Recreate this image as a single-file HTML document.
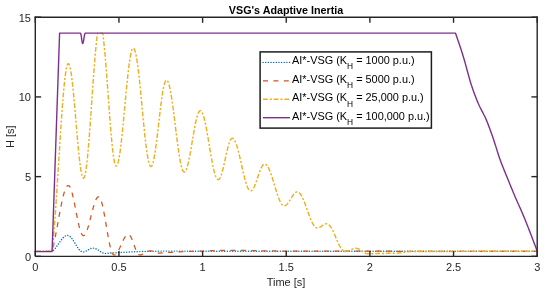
<!DOCTYPE html>
<html><head><meta charset="utf-8"><style>
html,body{margin:0;padding:0;background:#fff;width:550px;height:295px;overflow:hidden;}
svg{display:block;}
text{font-family:"Liberation Sans",Arial,sans-serif;}
</style></head><body>
<svg width="550" height="295" viewBox="0 0 550 295">
<rect x="0" y="0" width="550" height="295" fill="#fff"/>
<g fill="none" stroke-linejoin="round" stroke-width="1.25">
<polyline points="35.30,251.30 52.10,251.30 52.35,251.13 52.59,250.95 52.84,250.76 53.09,250.56 53.33,250.34 53.58,250.12 53.83,249.88 54.07,249.63 54.32,249.37 54.57,249.11 54.81,248.83 55.06,248.54 55.31,248.24 55.55,247.94 55.80,247.63 56.05,247.31 56.30,246.98 56.54,246.65 56.79,246.31 57.04,245.97 57.28,245.62 57.53,245.27 57.78,244.91 58.02,244.55 58.27,244.19 58.52,243.83 58.76,243.47 59.01,243.11 59.26,242.75 59.50,242.39 59.75,242.03 60.00,241.68 60.24,241.33 60.49,240.98 60.74,240.64 60.98,240.31 61.23,239.98 61.48,239.65 61.72,239.34 61.97,239.03 62.22,238.73 62.46,238.45 62.71,238.17 62.96,237.90 63.20,237.64 63.45,237.40 63.70,237.17 63.95,236.95 64.19,236.74 64.44,236.55 64.69,236.37 64.93,236.20 65.18,236.05 65.43,235.92 65.67,235.80 65.92,235.69 66.17,235.60 66.41,235.53 66.66,235.47 66.91,235.43 67.15,235.41 67.40,235.40 67.65,235.41 67.90,235.44 68.14,235.49 68.39,235.56 68.64,235.66 68.89,235.77 69.13,235.90 69.38,236.05 69.63,236.22 69.88,236.40 70.12,236.61 70.37,236.83 70.62,237.07 70.87,237.33 71.11,237.60 71.36,237.89 71.61,238.19 71.86,238.51 72.10,238.83 72.35,239.17 72.60,239.53 72.85,239.89 73.10,240.26 73.34,240.64 73.59,241.02 73.84,241.42 74.09,241.81 74.33,242.22 74.58,242.62 74.83,243.03 75.08,243.44 75.32,243.86 75.57,244.27 75.82,244.68 76.07,245.08 76.31,245.49 76.56,245.88 76.81,246.28 77.06,246.66 77.30,247.04 77.55,247.41 77.80,247.78 78.05,248.13 78.30,248.47 78.54,248.79 78.79,249.11 79.04,249.41 79.29,249.70 79.53,249.97 79.78,250.23 80.03,250.47 80.28,250.69 80.52,250.90 80.77,251.08 81.02,251.25 81.27,251.40 81.51,251.53 81.76,251.64 82.01,251.74 82.26,251.81 82.50,251.86 82.75,251.89 83.00,251.90 83.25,251.89 83.50,251.88 83.75,251.85 84.00,251.81 84.25,251.76 84.50,251.69 84.75,251.62 85.00,251.54 85.25,251.44 85.50,251.34 85.75,251.23 86.00,251.12 86.25,250.99 86.50,250.86 86.75,250.73 87.00,250.59 87.25,250.44 87.50,250.30 87.75,250.15 88.00,250.00 88.25,249.85 88.50,249.70 88.75,249.56 89.00,249.41 89.25,249.27 89.50,249.14 89.75,249.01 90.00,248.88 90.25,248.77 90.50,248.66 90.75,248.56 91.00,248.46 91.25,248.38 91.50,248.31 91.75,248.24 92.00,248.19 92.25,248.15 92.50,248.12 92.75,248.11 93.00,248.10 93.25,248.11 93.50,248.12 93.74,248.15 93.99,248.18 94.24,248.23 94.49,248.29 94.74,248.35 94.98,248.43 95.23,248.51 95.48,248.61 95.73,248.71 95.98,248.82 96.22,248.94 96.47,249.06 96.72,249.19 96.97,249.33 97.22,249.47 97.46,249.62 97.71,249.77 97.96,249.93 98.21,250.09 98.46,250.25 98.70,250.42 98.95,250.58 99.20,250.75 99.45,250.92 99.70,251.08 99.94,251.25 100.19,251.41 100.44,251.57 100.69,251.73 100.94,251.88 101.18,252.03 101.43,252.17 101.68,252.31 101.93,252.44 102.18,252.56 102.42,252.68 102.67,252.79 102.92,252.89 103.17,252.99 103.42,253.07 103.66,253.15 103.91,253.21 104.16,253.27 104.41,253.32 104.66,253.35 104.90,253.38 105.15,253.39 105.40,253.40 105.90,253.37 106.40,253.33 106.90,253.30 107.40,253.26 107.90,253.23 108.40,253.20 108.90,253.16 109.40,253.13 109.90,253.10 110.40,253.07 110.90,253.03 111.40,253.00 111.90,252.97 112.40,252.94 112.90,252.91 113.40,252.88 113.90,252.85 114.40,252.82 114.90,252.79 115.40,252.76 115.90,252.73 116.40,252.70 116.90,252.67 117.40,252.64 117.90,252.61 118.40,252.59 118.90,252.56 119.40,252.53 119.90,252.51 120.40,252.48 120.90,252.45 121.40,252.43 121.90,252.40 122.40,252.37 122.90,252.35 123.40,252.32 123.90,252.30 124.40,252.27 124.90,252.24 125.40,252.22 125.90,252.19 126.40,252.17 126.90,252.14 127.40,252.12 127.90,252.09 128.40,252.07 128.90,252.04 129.40,252.02 129.90,251.99 130.40,251.97 130.90,251.95 131.40,251.92 131.90,251.90 132.40,251.88 132.90,251.86 133.40,251.84 133.90,251.82 134.40,251.79 134.90,251.77 135.40,251.75 135.90,251.74 136.40,251.72 136.90,251.70 137.40,251.68 137.90,251.66 138.40,251.65 138.90,251.63 139.40,251.62 139.90,251.60 140.40,251.59 140.90,251.57 141.40,251.56 141.90,251.55 142.40,251.53 142.90,251.52 143.40,251.50 143.90,251.49 144.40,251.48 144.90,251.46 145.40,251.45 145.90,251.43 146.40,251.42 146.90,251.41 147.40,251.39 147.90,251.38 148.40,251.36 148.90,251.35 149.40,251.34 149.90,251.33 150.40,251.31 150.90,251.30 151.40,251.29 151.90,251.28 152.40,251.26 152.90,251.25 153.40,251.24 153.90,251.23 154.40,251.22 154.90,251.21 155.40,251.20 155.90,251.19 156.40,251.18 156.90,251.17 157.40,251.17 157.90,251.16 158.40,251.15 158.90,251.14 159.40,251.14 159.90,251.13 160.40,251.13 160.90,251.12 161.40,251.12 161.90,251.11 162.40,251.11 162.90,251.11 163.40,251.10 163.90,251.10 164.40,251.10 164.90,251.10 165.40,251.10 165.90,251.10 166.40,251.10 166.90,251.10 167.40,251.10 167.90,251.10 168.40,251.10 168.90,251.10 169.40,251.10 169.90,251.10 170.40,251.11 170.90,251.11 171.40,251.11 171.90,251.11 172.40,251.11 172.90,251.11 173.40,251.11 173.90,251.11 174.40,251.11 174.90,251.12 175.40,251.12 175.90,251.12 176.40,251.12 176.90,251.12 177.40,251.12 177.90,251.13 178.40,251.13 178.90,251.13 179.40,251.13 179.90,251.13 180.40,251.13 180.90,251.14 181.40,251.14 181.90,251.14 182.40,251.14 182.90,251.14 183.40,251.15 183.90,251.15 184.40,251.15 184.90,251.15 185.40,251.15 185.90,251.16 186.40,251.16 186.90,251.16 187.40,251.16 187.90,251.16 188.40,251.17 188.90,251.17 189.40,251.17 189.90,251.17 190.40,251.17 190.90,251.18 191.40,251.18 191.90,251.18 192.40,251.18 192.90,251.18 193.40,251.18 193.90,251.19 194.40,251.19 194.90,251.19 195.40,251.19 195.90,251.19 196.40,251.19 196.90,251.19 197.40,251.19 197.90,251.20 198.40,251.20 198.90,251.20 199.40,251.20 199.90,251.20 200.40,251.20 200.90,251.20 201.40,251.20 201.90,251.20 202.40,251.20 202.90,251.20 203.40,251.21 203.90,251.21 204.40,251.21 204.90,251.21 205.40,251.21 205.90,251.21 206.40,251.21 206.90,251.21 207.40,251.21 207.90,251.21 208.40,251.21 208.90,251.21 209.40,251.21 209.90,251.22 210.40,251.22 210.90,251.22 211.40,251.22 211.90,251.22 212.40,251.22 212.90,251.22 213.40,251.22 213.90,251.22 214.40,251.22 214.90,251.22 215.40,251.22 215.90,251.22 216.40,251.23 216.90,251.23 217.40,251.23 217.90,251.23 218.40,251.23 218.90,251.23 219.40,251.23 219.90,251.23 220.40,251.23 220.90,251.23 221.40,251.23 221.90,251.23 222.40,251.23 222.90,251.24 223.40,251.24 223.90,251.24 224.40,251.24 224.90,251.24 225.40,251.24 225.90,251.24 226.40,251.24 226.90,251.24 227.40,251.24 227.90,251.24 228.40,251.24 228.90,251.24 229.40,251.24 229.90,251.25 230.40,251.25 230.90,251.25 231.40,251.25 231.90,251.25 232.40,251.25 232.90,251.25 233.40,251.25 233.90,251.25 234.40,251.25 234.90,251.25 235.40,251.25 235.90,251.25 236.40,251.25 236.90,251.25 237.40,251.26 237.90,251.26 238.40,251.26 238.90,251.26 239.40,251.26 239.90,251.26 240.40,251.26 240.90,251.26 241.40,251.26 241.90,251.26 242.40,251.26 242.90,251.26 243.40,251.26 243.90,251.26 244.40,251.26 244.90,251.26 245.40,251.26 245.90,251.27 246.40,251.27 246.90,251.27 247.40,251.27 247.90,251.27 248.40,251.27 248.90,251.27 249.40,251.27 249.90,251.27 250.40,251.27 250.90,251.27 251.40,251.27 251.90,251.27 252.40,251.27 252.90,251.27 253.40,251.27 253.90,251.27 254.40,251.27 254.90,251.28 255.40,251.28 255.90,251.28 256.40,251.28 256.90,251.28 257.40,251.28 257.90,251.28 258.40,251.28 258.90,251.28 259.40,251.28 259.90,251.28 260.40,251.28 260.90,251.28 261.40,251.28 261.90,251.28 262.40,251.28 262.90,251.28 263.40,251.28 263.90,251.28 264.40,251.28 264.90,251.28 265.40,251.28 265.90,251.29 266.40,251.29 266.90,251.29 267.40,251.29 267.90,251.29 268.40,251.29 268.90,251.29 269.40,251.29 269.90,251.29 270.40,251.29 270.90,251.29 271.40,251.29 271.90,251.29 272.40,251.29 272.90,251.29 273.40,251.29 273.90,251.29 274.40,251.29 274.90,251.29 275.40,251.29 275.90,251.29 276.40,251.29 276.90,251.29 277.40,251.29 277.90,251.29 278.40,251.29 278.90,251.29 279.40,251.29 279.90,251.29 280.40,251.29 280.90,251.30 281.40,251.30 281.90,251.30 282.40,251.30 282.90,251.30 283.40,251.30 283.90,251.30 284.40,251.30 284.90,251.30 285.40,251.30 285.90,251.30 286.40,251.30 286.90,251.30 287.40,251.30 287.90,251.30 288.40,251.30 288.90,251.30 289.40,251.30 289.90,251.30 290.40,251.30 290.90,251.30 291.40,251.30 291.90,251.30 292.40,251.30 292.90,251.30 293.40,251.30 293.90,251.30 294.40,251.30 294.90,251.30 295.40,251.30 295.90,251.30 296.40,251.30 296.90,251.30 297.40,251.30 297.90,251.30 298.40,251.30 298.90,251.30 299.40,251.30 299.90,251.30 300.40,251.30 300.90,251.30 301.40,251.30 301.90,251.30 302.40,251.30 302.90,251.30 303.40,251.30 303.90,251.30 304.40,251.30 304.90,251.30 305.40,251.30 305.90,251.30 306.40,251.30 306.90,251.30 307.40,251.30 307.90,251.30 308.40,251.30 308.90,251.30 309.40,251.30 309.90,251.30 310.40,251.30 310.90,251.30 311.40,251.30 311.90,251.30 312.40,251.30 312.90,251.30 313.40,251.30 313.90,251.30 314.40,251.30 314.90,251.30 315.40,251.30 315.90,251.30 316.40,251.30 316.90,251.30 317.40,251.30 317.90,251.30 318.40,251.30 318.90,251.30 319.40,251.30 319.90,251.30 320.40,251.30 320.90,251.30 321.40,251.30 321.90,251.30 322.40,251.30 322.90,251.30 323.40,251.30 323.90,251.30 324.40,251.30 324.90,251.30 325.40,251.30 325.90,251.30 326.40,251.30 326.90,251.30 327.40,251.30 327.90,251.30 328.40,251.30 328.90,251.30 329.40,251.30 329.90,251.30 330.40,251.30 330.90,251.30 331.40,251.30 331.90,251.30 332.40,251.30 332.90,251.30 333.40,251.30 333.90,251.30 334.40,251.30 334.90,251.30 335.40,251.30 335.90,251.30 336.40,251.30 336.90,251.30 337.40,251.30 337.90,251.30 338.40,251.30 338.90,251.30 339.40,251.30 339.90,251.30 340.40,251.30 340.90,251.30 341.40,251.30 341.90,251.30 342.40,251.30 342.90,251.30 343.40,251.30 343.90,251.30 344.40,251.30 344.90,251.30 345.40,251.30 345.90,251.30 346.40,251.30 346.90,251.30 347.40,251.30 347.90,251.30 348.40,251.30 348.90,251.30 349.40,251.30 349.90,251.30 350.40,251.30 350.90,251.30 351.40,251.30 351.90,251.30 352.40,251.30 352.90,251.30 353.40,251.30 353.90,251.30 354.40,251.30 354.90,251.30 355.40,251.30 355.90,251.30 356.40,251.30 356.90,251.30 357.40,251.30 357.90,251.30 358.40,251.30 358.90,251.30 359.40,251.30 359.90,251.30 360.40,251.30 360.90,251.30 361.40,251.30 361.90,251.30 362.40,251.30 362.90,251.30 363.40,251.30 363.90,251.30 364.40,251.30 364.90,251.30 365.40,251.30 365.90,251.30 366.40,251.30 366.90,251.30 367.40,251.30 367.90,251.30 368.40,251.30 368.90,251.30 369.40,251.30 369.90,251.30 370.40,251.30 370.90,251.30 371.40,251.30 371.90,251.30 372.40,251.30 372.90,251.30 373.40,251.30 373.90,251.30 374.40,251.30 374.90,251.30 375.40,251.30 375.90,251.30 376.40,251.30 376.90,251.30 377.40,251.30 377.90,251.30 378.40,251.30 378.90,251.30 379.40,251.30 379.90,251.30 380.40,251.30 380.90,251.30 381.40,251.30 381.90,251.30 382.40,251.30 382.90,251.30 383.40,251.30 383.90,251.30 384.40,251.30 384.90,251.30 385.40,251.30 385.90,251.30 386.40,251.30 386.90,251.30 387.40,251.30 387.90,251.30 388.40,251.30 388.90,251.30 389.40,251.30 389.90,251.30 390.40,251.30 390.90,251.30 391.40,251.30 391.90,251.30 392.40,251.30 392.90,251.30 393.40,251.30 393.90,251.30 394.40,251.30 394.90,251.30 395.40,251.30 395.90,251.30 396.40,251.30 396.90,251.30 397.40,251.30 397.90,251.30 398.40,251.30 398.90,251.30 399.40,251.30 399.90,251.30 400.40,251.30 400.90,251.30 401.40,251.30 401.90,251.30 402.40,251.30 402.90,251.30 403.40,251.30 403.90,251.30 404.40,251.30 404.90,251.30 405.40,251.30 405.90,251.30 406.40,251.30 406.90,251.30 407.40,251.30 407.90,251.30 408.40,251.30 408.90,251.30 409.40,251.30 409.90,251.30 410.40,251.30 410.90,251.30 411.40,251.30 411.90,251.30 412.40,251.30 412.90,251.30 413.40,251.30 413.90,251.30 414.40,251.30 414.90,251.30 415.40,251.30 415.90,251.30 416.40,251.30 416.90,251.30 417.40,251.30 417.90,251.30 418.40,251.30 418.90,251.30 419.40,251.30 419.90,251.30 420.40,251.30 420.90,251.30 421.40,251.30 421.90,251.30 422.40,251.30 422.90,251.30 423.40,251.30 423.90,251.30 424.40,251.30 424.90,251.30 425.40,251.30 425.90,251.30 426.40,251.30 426.90,251.30 427.40,251.30 427.90,251.30 428.40,251.30 428.90,251.30 429.40,251.30 429.90,251.30 430.40,251.30 430.90,251.30 431.40,251.30 431.90,251.30 432.40,251.30 432.90,251.30 433.40,251.30 433.90,251.30 434.40,251.30 434.90,251.30 435.40,251.30 435.90,251.30 436.40,251.30 436.90,251.30 437.40,251.30 437.90,251.30 438.40,251.30 438.90,251.30 439.40,251.30 439.90,251.30 440.40,251.30 440.90,251.30 441.40,251.30 441.90,251.30 442.40,251.30 442.90,251.30 443.40,251.30 443.90,251.30 444.40,251.30 444.90,251.30 445.40,251.30 445.90,251.30 446.40,251.30 446.90,251.30 447.40,251.30 447.90,251.30 448.40,251.30 448.90,251.30 449.40,251.30 449.90,251.30 450.40,251.30 450.90,251.30 451.40,251.30 451.90,251.30 452.40,251.30 452.90,251.30 453.40,251.30 453.90,251.30 454.40,251.30 454.90,251.30 455.40,251.30 455.90,251.30 456.40,251.30 456.90,251.30 457.40,251.30 457.90,251.30 458.40,251.30 458.90,251.30 459.40,251.30 459.90,251.30 460.40,251.30 460.90,251.30 461.40,251.30 461.90,251.30 462.40,251.30 462.90,251.30 463.40,251.30 463.90,251.30 464.40,251.30 464.90,251.30 465.40,251.30 465.90,251.30 466.40,251.30 466.90,251.30 467.40,251.30 467.90,251.30 468.40,251.30 468.90,251.30 469.40,251.30 469.90,251.30 470.40,251.30 470.90,251.30 471.40,251.30 471.90,251.30 472.40,251.30 472.90,251.30 473.40,251.30 473.90,251.30 474.40,251.30 474.90,251.30 475.40,251.30 475.90,251.30 476.40,251.30 476.90,251.30 477.40,251.30 477.90,251.30 478.40,251.30 478.90,251.30 479.40,251.30 479.90,251.30 480.40,251.30 480.90,251.30 481.40,251.30 481.90,251.30 482.40,251.30 482.90,251.30 483.40,251.30 483.90,251.30 484.40,251.30 484.90,251.30 485.40,251.30 485.90,251.30 486.40,251.30 486.90,251.30 487.40,251.30 487.90,251.30 488.40,251.30 488.90,251.30 489.40,251.30 489.90,251.30 490.40,251.30 490.90,251.30 491.40,251.30 491.90,251.30 492.40,251.30 492.90,251.30 493.40,251.30 493.90,251.30 494.40,251.30 494.90,251.30 495.40,251.30 495.90,251.30 496.40,251.30 496.90,251.30 497.40,251.30 497.90,251.30 498.40,251.30 498.90,251.30 499.40,251.30 499.90,251.30 500.40,251.30 500.90,251.30 501.40,251.30 501.90,251.30 502.40,251.30 502.90,251.30 503.40,251.30 503.90,251.30 504.40,251.30 504.90,251.30 505.40,251.30 505.90,251.30 506.40,251.30 506.90,251.30 507.40,251.30 507.90,251.30 508.40,251.30 508.90,251.30 509.40,251.30 509.90,251.30 510.40,251.30 510.90,251.30 511.40,251.30 511.90,251.30 512.40,251.30 512.90,251.30 513.40,251.30 513.90,251.30 514.40,251.30 514.90,251.30 515.40,251.30 515.90,251.30 516.40,251.30 516.90,251.30 517.40,251.30 517.90,251.30 518.40,251.30 518.90,251.30 519.40,251.30 519.90,251.30 520.40,251.30 520.90,251.30 521.40,251.30 521.90,251.30 522.40,251.30 522.90,251.30 523.40,251.30 523.90,251.30 524.40,251.30 524.90,251.30 525.40,251.30 525.90,251.30 526.40,251.30 526.90,251.30 527.40,251.30 527.90,251.30 528.40,251.30 528.90,251.30 529.40,251.30 529.90,251.30 530.40,251.30 530.90,251.30 531.40,251.30 531.90,251.30 532.40,251.30 532.90,251.30 533.40,251.30 533.90,251.30 534.40,251.30 534.90,251.30 535.40,251.30 535.90,251.30 536.40,251.30 536.90,251.30 537.20,251.30" stroke="#0072BD" stroke-dasharray="0.1 2.55" stroke-linecap="round" stroke-width="1.4"/>
<polyline points="35.30,251.30 52.10,251.30 52.35,250.33 52.60,249.33 52.85,248.30 53.10,247.24 53.35,246.16 53.60,245.05 53.84,243.91 54.09,242.74 54.34,241.56 54.59,240.34 54.84,239.11 55.09,237.86 55.34,236.59 55.59,235.30 55.84,233.99 56.09,232.67 56.34,231.34 56.59,229.99 56.84,228.63 57.08,227.27 57.33,225.90 57.58,224.52 57.83,223.14 58.08,221.76 58.33,220.38 58.58,219.00 58.83,217.63 59.08,216.26 59.33,214.90 59.58,213.55 59.83,212.21 60.08,210.88 60.32,209.57 60.57,208.28 60.82,207.00 61.07,205.75 61.32,204.52 61.57,203.31 61.82,202.13 62.07,200.98 62.32,199.86 62.57,198.77 62.82,197.71 63.07,196.69 63.32,195.71 63.56,194.76 63.81,193.85 64.06,192.98 64.31,192.16 64.56,191.38 64.81,190.64 65.06,189.95 65.31,189.30 65.56,188.70 65.81,188.15 66.06,187.66 66.31,187.21 66.56,186.81 66.80,186.46 67.05,186.17 67.30,185.93 67.55,185.74 67.80,185.61 68.05,185.53 68.30,185.50 68.55,185.53 68.80,185.63 69.04,185.80 69.29,186.03 69.54,186.33 69.79,186.69 70.03,187.11 70.28,187.60 70.53,188.14 70.78,188.75 71.02,189.41 71.27,190.13 71.52,190.91 71.77,191.73 72.01,192.61 72.26,193.53 72.51,194.50 72.76,195.51 73.00,196.57 73.25,197.65 73.50,198.78 73.75,199.93 73.99,201.11 74.24,202.32 74.49,203.55 74.74,204.80 74.98,206.06 75.23,207.33 75.48,208.62 75.73,209.91 75.97,211.19 76.22,212.48 76.47,213.77 76.72,215.04 76.96,216.30 77.21,217.55 77.46,218.78 77.71,219.99 77.95,221.17 78.20,222.32 78.45,223.45 78.70,224.53 78.94,225.59 79.19,226.60 79.44,227.57 79.69,228.49 79.93,229.37 80.18,230.19 80.43,230.97 80.68,231.69 80.92,232.35 81.17,232.96 81.42,233.50 81.67,233.99 81.91,234.41 82.16,234.77 82.41,235.07 82.66,235.30 82.90,235.47 83.15,235.57 83.40,235.60 83.65,235.57 83.90,235.50 84.15,235.37 84.40,235.19 84.65,234.96 84.90,234.68 85.14,234.35 85.39,233.98 85.64,233.55 85.89,233.08 86.14,232.57 86.39,232.01 86.64,231.41 86.89,230.77 87.14,230.09 87.39,229.38 87.64,228.63 87.89,227.84 88.13,227.03 88.38,226.19 88.63,225.32 88.88,224.42 89.13,223.51 89.38,222.57 89.63,221.62 89.88,220.66 90.13,219.68 90.38,218.69 90.63,217.70 90.88,216.70 91.12,215.70 91.37,214.70 91.62,213.71 91.87,212.72 92.12,211.74 92.37,210.78 92.62,209.83 92.87,208.89 93.12,207.98 93.37,207.08 93.62,206.21 93.87,205.37 94.11,204.56 94.36,203.77 94.61,203.02 94.86,202.31 95.11,201.63 95.36,200.99 95.61,200.39 95.86,199.83 96.11,199.32 96.36,198.85 96.61,198.42 96.86,198.05 97.10,197.72 97.35,197.44 97.60,197.21 97.85,197.03 98.10,196.90 98.35,196.83 98.60,196.80 98.85,196.84 99.10,196.95 99.35,197.14 99.59,197.40 99.84,197.73 100.09,198.13 100.34,198.61 100.59,199.16 100.84,199.77 101.08,200.46 101.33,201.20 101.58,202.02 101.83,202.89 102.08,203.82 102.33,204.81 102.57,205.85 102.82,206.95 103.07,208.09 103.32,209.28 103.57,210.51 103.82,211.78 104.06,213.08 104.31,214.42 104.56,215.79 104.81,217.19 105.06,218.61 105.31,220.04 105.55,221.49 105.80,222.96 106.05,224.43 106.30,225.90 106.55,227.37 106.80,228.84 107.05,230.31 107.29,231.76 107.54,233.19 107.79,234.61 108.04,236.01 108.29,237.38 108.54,238.72 108.78,240.02 109.03,241.29 109.28,242.52 109.53,243.71 109.78,244.85 110.03,245.95 110.27,246.99 110.52,247.98 110.77,248.91 111.02,249.78 111.27,250.60 111.52,251.34 111.76,252.03 112.01,252.64 112.26,253.19 112.51,253.67 112.76,254.07 113.01,254.40 113.25,254.66 113.50,254.85 113.75,254.96 114.00,255.00 114.25,254.98 114.49,254.94 114.74,254.86 114.99,254.76 115.23,254.63 115.48,254.46 115.73,254.27 115.97,254.05 116.22,253.81 116.47,253.53 116.71,253.23 116.96,252.91 117.21,252.56 117.45,252.19 117.70,251.80 117.94,251.39 118.19,250.95 118.44,250.50 118.68,250.03 118.93,249.55 119.18,249.05 119.42,248.54 119.67,248.02 119.92,247.49 120.16,246.95 120.41,246.41 120.66,245.86 120.90,245.30 121.15,244.75 121.40,244.20 121.64,243.64 121.89,243.09 122.14,242.55 122.38,242.01 122.63,241.48 122.88,240.96 123.12,240.45 123.37,239.95 123.62,239.47 123.86,239.00 124.11,238.55 124.36,238.11 124.60,237.70 124.85,237.31 125.09,236.94 125.34,236.59 125.59,236.27 125.83,235.97 126.08,235.69 126.33,235.45 126.57,235.23 126.82,235.04 127.07,234.87 127.31,234.74 127.56,234.64 127.81,234.56 128.05,234.52 128.30,234.50 128.55,234.52 128.80,234.60 129.04,234.71 129.29,234.88 129.54,235.09 129.79,235.35 130.03,235.65 130.28,235.99 130.53,236.38 130.78,236.80 131.03,237.26 131.27,237.75 131.52,238.28 131.77,238.84 132.02,239.42 132.27,240.03 132.51,240.67 132.76,241.32 133.01,241.98 133.26,242.66 133.50,243.35 133.75,244.05 134.00,244.75 134.25,245.45 134.50,246.15 134.74,246.84 134.99,247.52 135.24,248.18 135.49,248.83 135.73,249.47 135.98,250.08 136.23,250.66 136.48,251.22 136.73,251.75 136.97,252.24 137.22,252.70 137.47,253.12 137.72,253.51 137.97,253.85 138.21,254.15 138.46,254.41 138.71,254.62 138.96,254.79 139.20,254.90 139.45,254.98 139.70,255.00 139.95,254.99 140.19,254.98 140.44,254.95 140.69,254.90 140.93,254.85 141.18,254.79 141.42,254.71 141.67,254.63 141.92,254.53 142.16,254.43 142.41,254.31 142.66,254.19 142.90,254.06 143.15,253.93 143.40,253.79 143.64,253.64 143.89,253.49 144.13,253.34 144.38,253.19 144.63,253.03 144.87,252.87 145.12,252.71 145.37,252.56 145.61,252.41 145.86,252.26 146.10,252.11 146.35,251.97 146.60,251.84 146.84,251.71 147.09,251.59 147.34,251.47 147.58,251.37 147.83,251.27 148.08,251.19 148.32,251.11 148.57,251.05 148.81,251.00 149.06,250.95 149.31,250.92 149.55,250.91 149.80,250.90 150.05,250.90 150.29,250.91 150.53,250.93 150.78,250.95 151.03,250.98 151.27,251.02 151.52,251.06 151.76,251.11 152.00,251.16 152.25,251.22 152.50,251.29 152.74,251.35 152.99,251.43 153.23,251.50 153.47,251.58 153.72,251.66 153.97,251.74 154.21,251.83 154.46,251.91 154.70,252.00 154.94,252.09 155.19,252.17 155.44,252.26 155.68,252.34 155.93,252.42 156.17,252.50 156.41,252.57 156.66,252.65 156.91,252.71 157.15,252.78 157.40,252.84 157.64,252.89 157.88,252.94 158.13,252.98 158.38,253.02 158.62,253.05 158.87,253.07 159.11,253.09 159.35,253.10 159.60,253.10 160.10,253.06 160.60,253.03 161.10,252.99 161.60,252.96 162.10,252.92 162.60,252.88 163.10,252.85 163.60,252.82 164.10,252.78 164.60,252.75 165.10,252.71 165.60,252.68 166.10,252.65 166.60,252.61 167.10,252.58 167.60,252.55 168.10,252.52 168.60,252.49 169.10,252.45 169.60,252.42 170.10,252.39 170.60,252.36 171.10,252.33 171.60,252.30 172.10,252.27 172.60,252.24 173.10,252.21 173.60,252.18 174.10,252.15 174.60,252.12 175.10,252.09 175.60,252.06 176.10,252.03 176.60,252.01 177.10,251.98 177.60,251.95 178.10,251.92 178.60,251.89 179.10,251.87 179.60,251.84 180.10,251.81 180.60,251.79 181.10,251.77 181.60,251.74 182.10,251.72 182.60,251.70 183.10,251.67 183.60,251.65 184.10,251.63 184.60,251.61 185.10,251.60 185.60,251.58 186.10,251.56 186.60,251.55 187.10,251.53 187.60,251.52 188.10,251.50 188.60,251.49 189.10,251.48 189.60,251.46 190.10,251.45 190.60,251.44 191.10,251.43 191.60,251.42 192.10,251.41 192.60,251.39 193.10,251.38 193.60,251.37 194.10,251.36 194.60,251.35 195.10,251.34 195.60,251.33 196.10,251.31 196.60,251.30 197.10,251.29 197.60,251.27 198.10,251.26 198.60,251.24 199.10,251.23 199.60,251.21 200.10,251.20 200.60,251.18 201.10,251.16 201.60,251.14 202.10,251.11 202.60,251.09 203.10,251.06 203.60,251.04 204.10,251.01 204.60,250.98 205.10,250.95 205.60,250.92 206.10,250.90 206.60,250.87 207.10,250.84 207.60,250.81 208.10,250.78 208.60,250.75 209.10,250.72 209.60,250.70 210.10,250.67 210.60,250.65 211.10,250.62 211.60,250.60 212.10,250.58 212.60,250.56 213.10,250.54 213.60,250.53 214.10,250.52 214.60,250.51 215.10,250.50 215.60,250.49 216.10,250.48 216.60,250.48 217.10,250.47 217.60,250.46 218.10,250.46 218.60,250.45 219.10,250.44 219.60,250.44 220.10,250.43 220.60,250.43 221.10,250.42 221.60,250.41 222.10,250.41 222.60,250.40 223.10,250.40 223.60,250.39 224.10,250.39 224.60,250.38 225.10,250.38 225.60,250.37 226.10,250.37 226.60,250.36 227.10,250.36 227.60,250.35 228.10,250.35 228.60,250.35 229.10,250.34 229.60,250.34 230.10,250.33 230.60,250.33 231.10,250.33 231.60,250.33 232.10,250.32 232.60,250.32 233.10,250.32 233.60,250.31 234.10,250.31 234.60,250.31 235.10,250.31 235.60,250.31 236.10,250.31 236.60,250.30 237.10,250.30 237.60,250.30 238.10,250.30 238.60,250.30 239.10,250.30 239.60,250.30 240.10,250.30 240.60,250.30 241.10,250.30 241.60,250.31 242.10,250.31 242.60,250.32 243.10,250.32 243.60,250.33 244.10,250.34 244.60,250.35 245.10,250.35 245.60,250.36 246.10,250.38 246.60,250.39 247.10,250.40 247.60,250.41 248.10,250.43 248.60,250.44 249.10,250.45 249.60,250.47 250.10,250.48 250.60,250.50 251.10,250.51 251.60,250.53 252.10,250.54 252.60,250.56 253.10,250.57 253.60,250.59 254.10,250.60 254.60,250.62 255.10,250.64 255.60,250.65 256.10,250.66 256.60,250.68 257.10,250.69 257.60,250.71 258.10,250.72 258.60,250.73 259.10,250.74 259.60,250.76 260.10,250.77 260.60,250.78 261.10,250.79 261.60,250.79 262.10,250.80 262.60,250.81 263.10,250.82 263.60,250.82 264.10,250.83 264.60,250.84 265.10,250.85 265.60,250.85 266.10,250.86 266.60,250.87 267.10,250.88 267.60,250.88 268.10,250.89 268.60,250.90 269.10,250.90 269.60,250.91 270.10,250.92 270.60,250.92 271.10,250.93 271.60,250.94 272.10,250.95 272.60,250.95 273.10,250.96 273.60,250.97 274.10,250.97 274.60,250.98 275.10,250.98 275.60,250.99 276.10,251.00 276.60,251.00 277.10,251.01 277.60,251.01 278.10,251.02 278.60,251.02 279.10,251.03 279.60,251.03 280.10,251.04 280.60,251.04 281.10,251.05 281.60,251.05 282.10,251.06 282.60,251.06 283.10,251.07 283.60,251.07 284.10,251.07 284.60,251.08 285.10,251.08 285.60,251.08 286.10,251.09 286.60,251.09 287.10,251.09 287.60,251.09 288.10,251.09 288.60,251.10 289.10,251.10 289.60,251.10 290.10,251.10 290.60,251.10 291.10,251.10 291.60,251.10 292.10,251.10 292.60,251.11 293.10,251.11 293.60,251.11 294.10,251.11 294.60,251.11 295.10,251.11 295.60,251.11 296.10,251.11 296.60,251.11 297.10,251.11 297.60,251.11 298.10,251.12 298.60,251.12 299.10,251.12 299.60,251.12 300.10,251.12 300.60,251.12 301.10,251.12 301.60,251.12 302.10,251.12 302.60,251.12 303.10,251.12 303.60,251.13 304.10,251.13 304.60,251.13 305.10,251.13 305.60,251.13 306.10,251.13 306.60,251.13 307.10,251.13 307.60,251.13 308.10,251.13 308.60,251.13 309.10,251.14 309.60,251.14 310.10,251.14 310.60,251.14 311.10,251.14 311.60,251.14 312.10,251.14 312.60,251.14 313.10,251.14 313.60,251.14 314.10,251.14 314.60,251.14 315.10,251.15 315.60,251.15 316.10,251.15 316.60,251.15 317.10,251.15 317.60,251.15 318.10,251.15 318.60,251.15 319.10,251.15 319.60,251.15 320.10,251.15 320.60,251.15 321.10,251.16 321.60,251.16 322.10,251.16 322.60,251.16 323.10,251.16 323.60,251.16 324.10,251.16 324.60,251.16 325.10,251.16 325.60,251.16 326.10,251.16 326.60,251.16 327.10,251.16 327.60,251.17 328.10,251.17 328.60,251.17 329.10,251.17 329.60,251.17 330.10,251.17 330.60,251.17 331.10,251.17 331.60,251.17 332.10,251.17 332.60,251.17 333.10,251.17 333.60,251.17 334.10,251.17 334.60,251.18 335.10,251.18 335.60,251.18 336.10,251.18 336.60,251.18 337.10,251.18 337.60,251.18 338.10,251.18 338.60,251.18 339.10,251.18 339.60,251.18 340.10,251.18 340.60,251.18 341.10,251.18 341.60,251.19 342.10,251.19 342.60,251.19 343.10,251.19 343.60,251.19 344.10,251.19 344.60,251.19 345.10,251.19 345.60,251.19 346.10,251.19 346.60,251.19 347.10,251.19 347.60,251.19 348.10,251.19 348.60,251.19 349.10,251.20 349.60,251.20 350.10,251.20 350.60,251.20 351.10,251.20 351.60,251.20 352.10,251.20 352.60,251.20 353.10,251.20 353.60,251.20 354.10,251.20 354.60,251.20 355.10,251.20 355.60,251.20 356.10,251.20 356.60,251.21 357.10,251.21 357.60,251.21 358.10,251.21 358.60,251.21 359.10,251.21 359.60,251.21 360.10,251.21 360.60,251.21 361.10,251.21 361.60,251.21 362.10,251.21 362.60,251.21 363.10,251.21 363.60,251.21 364.10,251.21 364.60,251.21 365.10,251.22 365.60,251.22 366.10,251.22 366.60,251.22 367.10,251.22 367.60,251.22 368.10,251.22 368.60,251.22 369.10,251.22 369.60,251.22 370.10,251.22 370.60,251.22 371.10,251.22 371.60,251.22 372.10,251.22 372.60,251.22 373.10,251.22 373.60,251.22 374.10,251.23 374.60,251.23 375.10,251.23 375.60,251.23 376.10,251.23 376.60,251.23 377.10,251.23 377.60,251.23 378.10,251.23 378.60,251.23 379.10,251.23 379.60,251.23 380.10,251.23 380.60,251.23 381.10,251.23 381.60,251.23 382.10,251.23 382.60,251.23 383.10,251.23 383.60,251.23 384.10,251.24 384.60,251.24 385.10,251.24 385.60,251.24 386.10,251.24 386.60,251.24 387.10,251.24 387.60,251.24 388.10,251.24 388.60,251.24 389.10,251.24 389.60,251.24 390.10,251.24 390.60,251.24 391.10,251.24 391.60,251.24 392.10,251.24 392.60,251.24 393.10,251.24 393.60,251.24 394.10,251.24 394.60,251.24 395.10,251.25 395.60,251.25 396.10,251.25 396.60,251.25 397.10,251.25 397.60,251.25 398.10,251.25 398.60,251.25 399.10,251.25 399.60,251.25 400.10,251.25 400.60,251.25 401.10,251.25 401.60,251.25 402.10,251.25 402.60,251.25 403.10,251.25 403.60,251.25 404.10,251.25 404.60,251.25 405.10,251.25 405.60,251.25 406.10,251.25 406.60,251.25 407.10,251.26 407.60,251.26 408.10,251.26 408.60,251.26 409.10,251.26 409.60,251.26 410.10,251.26 410.60,251.26 411.10,251.26 411.60,251.26 412.10,251.26 412.60,251.26 413.10,251.26 413.60,251.26 414.10,251.26 414.60,251.26 415.10,251.26 415.60,251.26 416.10,251.26 416.60,251.26 417.10,251.26 417.60,251.26 418.10,251.26 418.60,251.26 419.10,251.26 419.60,251.26 420.10,251.26 420.60,251.27 421.10,251.27 421.60,251.27 422.10,251.27 422.60,251.27 423.10,251.27 423.60,251.27 424.10,251.27 424.60,251.27 425.10,251.27 425.60,251.27 426.10,251.27 426.60,251.27 427.10,251.27 427.60,251.27 428.10,251.27 428.60,251.27 429.10,251.27 429.60,251.27 430.10,251.27 430.60,251.27 431.10,251.27 431.60,251.27 432.10,251.27 432.60,251.27 433.10,251.27 433.60,251.27 434.10,251.27 434.60,251.27 435.10,251.27 435.60,251.27 436.10,251.27 436.60,251.27 437.10,251.28 437.60,251.28 438.10,251.28 438.60,251.28 439.10,251.28 439.60,251.28 440.10,251.28 440.60,251.28 441.10,251.28 441.60,251.28 442.10,251.28 442.60,251.28 443.10,251.28 443.60,251.28 444.10,251.28 444.60,251.28 445.10,251.28 445.60,251.28 446.10,251.28 446.60,251.28 447.10,251.28 447.60,251.28 448.10,251.28 448.60,251.28 449.10,251.28 449.60,251.28 450.10,251.28 450.60,251.28 451.10,251.28 451.60,251.28 452.10,251.28 452.60,251.28 453.10,251.28 453.60,251.28 454.10,251.28 454.60,251.28 455.10,251.28 455.60,251.28 456.10,251.28 456.60,251.28 457.10,251.28 457.60,251.29 458.10,251.29 458.60,251.29 459.10,251.29 459.60,251.29 460.10,251.29 460.60,251.29 461.10,251.29 461.60,251.29 462.10,251.29 462.60,251.29 463.10,251.29 463.60,251.29 464.10,251.29 464.60,251.29 465.10,251.29 465.60,251.29 466.10,251.29 466.60,251.29 467.10,251.29 467.60,251.29 468.10,251.29 468.60,251.29 469.10,251.29 469.60,251.29 470.10,251.29 470.60,251.29 471.10,251.29 471.60,251.29 472.10,251.29 472.60,251.29 473.10,251.29 473.60,251.29 474.10,251.29 474.60,251.29 475.10,251.29 475.60,251.29 476.10,251.29 476.60,251.29 477.10,251.29 477.60,251.29 478.10,251.29 478.60,251.29 479.10,251.29 479.60,251.29 480.10,251.29 480.60,251.29 481.10,251.29 481.60,251.29 482.10,251.29 482.60,251.29 483.10,251.29 483.60,251.29 484.10,251.29 484.60,251.29 485.10,251.29 485.60,251.29 486.10,251.29 486.60,251.29 487.10,251.29 487.60,251.29 488.10,251.29 488.60,251.29 489.10,251.29 489.60,251.30 490.10,251.30 490.60,251.30 491.10,251.30 491.60,251.30 492.10,251.30 492.60,251.30 493.10,251.30 493.60,251.30 494.10,251.30 494.60,251.30 495.10,251.30 495.60,251.30 496.10,251.30 496.60,251.30 497.10,251.30 497.60,251.30 498.10,251.30 498.60,251.30 499.10,251.30 499.60,251.30 500.10,251.30 500.60,251.30 501.10,251.30 501.60,251.30 502.10,251.30 502.60,251.30 503.10,251.30 503.60,251.30 504.10,251.30 504.60,251.30 505.10,251.30 505.60,251.30 506.10,251.30 506.60,251.30 507.10,251.30 507.60,251.30 508.10,251.30 508.60,251.30 509.10,251.30 509.60,251.30 510.10,251.30 510.60,251.30 511.10,251.30 511.60,251.30 512.10,251.30 512.60,251.30 513.10,251.30 513.60,251.30 514.10,251.30 514.60,251.30 515.10,251.30 515.60,251.30 516.10,251.30 516.60,251.30 517.10,251.30 517.60,251.30 518.10,251.30 518.60,251.30 519.10,251.30 519.60,251.30 520.10,251.30 520.60,251.30 521.10,251.30 521.60,251.30 522.10,251.30 522.60,251.30 523.10,251.30 523.60,251.30 524.10,251.30 524.60,251.30 525.10,251.30 525.60,251.30 526.10,251.30 526.60,251.30 527.10,251.30 527.60,251.30 528.10,251.30 528.60,251.30 529.10,251.30 529.60,251.30 530.10,251.30 530.60,251.30 531.10,251.30 531.60,251.30 532.10,251.30 532.60,251.30 533.10,251.30 533.60,251.30 534.10,251.30 534.60,251.30 535.10,251.30 535.60,251.30 536.10,251.30 536.60,251.30 537.10,251.30 537.20,251.30" stroke="#D95319" stroke-dasharray="5 5.4"/>
<polyline points="35.30,251.30 52.10,251.30 52.35,248.98 52.60,246.55 52.85,244.01 53.10,241.37 53.35,238.62 53.60,235.78 53.84,232.84 54.09,229.80 54.34,226.68 54.59,223.47 54.84,220.17 55.09,216.79 55.34,213.34 55.59,209.81 55.84,206.22 56.09,202.56 56.34,198.85 56.59,195.09 56.84,191.27 57.08,187.42 57.33,183.52 57.58,179.60 57.83,175.65 58.08,171.68 58.33,167.70 58.58,163.71 58.83,159.72 59.08,155.73 59.33,151.76 59.58,147.80 59.83,143.86 60.08,139.95 60.32,136.08 60.57,132.25 60.82,128.47 61.07,124.74 61.32,121.08 61.57,117.48 61.82,113.95 62.07,110.50 62.32,107.13 62.57,103.86 62.82,100.67 63.07,97.59 63.32,94.62 63.56,91.75 63.81,89.01 64.06,86.38 64.31,83.87 64.56,81.50 64.81,79.26 65.06,77.16 65.31,75.19 65.56,73.37 65.81,71.70 66.06,70.18 66.31,68.81 66.56,67.60 66.80,66.54 67.05,65.65 67.30,64.91 67.55,64.34 67.80,63.93 68.05,63.68 68.30,63.60 68.55,63.68 68.80,63.90 69.05,64.28 69.30,64.81 69.55,65.49 69.80,66.31 70.04,67.28 70.29,68.40 70.54,69.65 70.79,71.03 71.04,72.55 71.29,74.20 71.54,75.97 71.79,77.86 72.04,79.86 72.29,81.98 72.54,84.19 72.79,86.51 73.03,88.91 73.28,91.40 73.53,93.97 73.78,96.61 74.03,99.31 74.28,102.07 74.53,104.89 74.78,107.74 75.03,110.63 75.28,113.54 75.53,116.48 75.78,119.42 76.02,122.38 76.27,125.32 76.52,128.26 76.77,131.17 77.02,134.06 77.27,136.91 77.52,139.73 77.77,142.49 78.02,145.19 78.27,147.83 78.52,150.40 78.77,152.89 79.01,155.29 79.26,157.61 79.51,159.82 79.76,161.94 80.01,163.94 80.26,165.83 80.51,167.60 80.76,169.25 81.01,170.77 81.26,172.15 81.51,173.40 81.76,174.52 82.00,175.49 82.25,176.31 82.50,176.99 82.75,177.52 83.00,177.90 83.25,178.12 83.50,178.20 83.75,178.12 84.00,177.86 84.24,177.44 84.49,176.85 84.74,176.09 84.99,175.17 85.23,174.09 85.48,172.85 85.73,171.45 85.98,169.89 86.23,168.19 86.47,166.34 86.72,164.34 86.97,162.21 87.22,159.94 87.46,157.54 87.71,155.02 87.96,152.38 88.21,149.63 88.46,146.77 88.70,143.81 88.95,140.76 89.20,137.62 89.45,134.40 89.69,131.11 89.94,127.76 90.19,124.34 90.44,120.88 90.69,117.37 90.93,113.82 91.18,110.25 91.43,106.66 91.68,103.05 91.92,99.45 92.17,95.84 92.42,92.25 92.67,88.68 92.91,85.13 93.16,81.62 93.41,78.16 93.66,74.74 93.91,71.39 94.15,68.10 94.40,64.88 94.65,61.74 94.90,58.69 95.14,55.73 95.39,52.87 95.64,50.12 95.89,47.48 96.14,44.96 96.38,42.56 96.63,40.29 96.88,38.16 97.13,36.16 97.37,34.31 97.62,33.10 97.87,33.10 98.12,33.10 98.37,33.10 98.61,33.10 98.86,33.10 99.11,33.10 99.36,33.10 99.60,33.10 99.85,33.10 100.10,33.10 100.35,33.10 100.60,33.10 100.84,33.10 101.09,33.10 101.34,33.10 101.59,33.10 101.83,33.10 102.08,33.10 102.33,33.10 102.58,33.10 102.82,34.08 103.07,35.89 103.32,37.83 103.57,39.91 103.82,42.12 104.06,44.45 104.31,46.90 104.56,49.46 104.81,52.13 105.05,54.90 105.30,57.77 105.55,60.72 105.80,63.75 106.04,66.86 106.29,70.03 106.54,73.26 106.79,76.54 107.04,79.86 107.28,83.22 107.53,86.61 107.78,90.02 108.03,93.44 108.27,96.86 108.52,100.28 108.77,103.69 109.02,107.08 109.26,110.44 109.51,113.76 109.76,117.04 110.01,120.27 110.26,123.44 110.50,126.55 110.75,129.58 111.00,132.53 111.25,135.40 111.49,138.17 111.74,140.84 111.99,143.40 112.24,145.85 112.48,148.18 112.73,150.39 112.98,152.47 113.23,154.41 113.48,156.22 113.72,157.88 113.97,159.40 114.22,160.77 114.47,161.98 114.71,163.04 114.96,163.94 115.21,164.68 115.46,165.26 115.70,165.67 115.95,165.92 116.20,166.00 116.45,165.94 116.70,165.76 116.94,165.45 117.19,165.03 117.44,164.48 117.69,163.81 117.93,163.03 118.18,162.13 118.43,161.12 118.68,159.99 118.93,158.76 119.17,157.42 119.42,155.97 119.67,154.42 119.92,152.78 120.17,151.04 120.41,149.21 120.66,147.29 120.91,145.28 121.16,143.20 121.40,141.05 121.65,138.82 121.90,136.53 122.15,134.17 122.40,131.76 122.64,129.30 122.89,126.79 123.14,124.24 123.39,121.66 123.63,119.04 123.88,116.40 124.13,113.75 124.38,111.07 124.63,108.39 124.87,105.71 125.12,103.03 125.37,100.35 125.62,97.70 125.87,95.06 126.11,92.44 126.36,89.86 126.61,87.31 126.86,84.80 127.10,82.34 127.35,79.93 127.60,77.58 127.85,75.28 128.10,73.05 128.34,70.90 128.59,68.82 128.84,66.81 129.09,64.89 129.33,63.06 129.58,61.32 129.83,59.68 130.08,58.13 130.33,56.68 130.57,55.34 130.82,54.11 131.07,52.98 131.32,51.97 131.57,51.07 131.81,50.29 132.06,49.62 132.31,49.07 132.56,48.65 132.80,48.34 133.05,48.16 133.30,48.10 133.55,48.16 133.80,48.33 134.04,48.62 134.29,49.02 134.54,49.54 134.79,50.17 135.04,50.92 135.28,51.77 135.53,52.73 135.78,53.80 136.03,54.97 136.27,56.25 136.52,57.63 136.77,59.10 137.02,60.67 137.27,62.33 137.51,64.07 137.76,65.90 138.01,67.82 138.26,69.81 138.51,71.87 138.75,74.00 139.00,76.20 139.25,78.46 139.50,80.77 139.75,83.14 139.99,85.56 140.24,88.01 140.49,90.51 140.74,93.03 140.98,95.59 141.23,98.17 141.48,100.76 141.73,103.37 141.98,105.99 142.22,108.61 142.47,111.23 142.72,113.84 142.97,116.43 143.22,119.01 143.46,121.57 143.71,124.09 143.96,126.59 144.21,129.04 144.45,131.46 144.70,133.83 144.95,136.14 145.20,138.40 145.45,140.60 145.69,142.73 145.94,144.79 146.19,146.78 146.44,148.70 146.69,150.53 146.93,152.27 147.18,153.93 147.43,155.50 147.68,156.97 147.93,158.35 148.17,159.63 148.42,160.80 148.67,161.87 148.92,162.83 149.16,163.68 149.41,164.43 149.66,165.06 149.91,165.58 150.16,165.98 150.40,166.27 150.65,166.44 150.90,166.50 151.15,166.45 151.40,166.29 151.64,166.02 151.89,165.64 152.14,165.17 152.39,164.58 152.63,163.90 152.88,163.11 153.13,162.23 153.38,161.25 153.62,160.17 153.87,159.00 154.12,157.75 154.37,156.40 154.61,154.98 154.86,153.48 155.11,151.90 155.36,150.25 155.60,148.54 155.85,146.76 156.10,144.93 156.35,143.04 156.60,141.10 156.84,139.11 157.09,137.09 157.34,135.04 157.59,132.95 157.83,130.84 158.08,128.72 158.33,126.57 158.58,124.43 158.82,122.27 159.07,120.13 159.32,117.98 159.57,115.86 159.81,113.75 160.06,111.66 160.31,109.61 160.56,107.59 160.80,105.60 161.05,103.66 161.30,101.78 161.55,99.94 161.80,98.16 162.04,96.45 162.29,94.80 162.54,93.22 162.79,91.72 163.03,90.30 163.28,88.95 163.53,87.70 163.78,86.53 164.02,85.45 164.27,84.47 164.52,83.59 164.77,82.80 165.01,82.12 165.26,81.53 165.51,81.06 165.76,80.68 166.00,80.41 166.25,80.25 166.50,80.20 166.75,80.24 167.00,80.38 167.25,80.60 167.50,80.92 167.75,81.32 168.00,81.81 168.25,82.38 168.49,83.05 168.74,83.79 168.99,84.62 169.24,85.53 169.49,86.52 169.74,87.59 169.99,88.73 170.24,89.94 170.49,91.23 170.74,92.58 170.99,94.00 171.24,95.49 171.49,97.03 171.74,98.63 171.98,100.28 172.23,101.99 172.48,103.74 172.73,105.53 172.98,107.37 173.23,109.24 173.48,111.15 173.73,113.08 173.98,115.04 174.23,117.02 174.48,119.02 174.73,121.03 174.98,123.06 175.23,125.08 175.47,127.12 175.72,129.14 175.97,131.17 176.22,133.18 176.47,135.18 176.72,137.16 176.97,139.12 177.22,141.05 177.47,142.96 177.72,144.83 177.97,146.67 178.22,148.46 178.47,150.21 178.72,151.92 178.96,153.57 179.21,155.17 179.46,156.71 179.71,158.20 179.96,159.62 180.21,160.97 180.46,162.26 180.71,163.47 180.96,164.61 181.21,165.68 181.46,166.67 181.71,167.58 181.96,168.41 182.21,169.15 182.45,169.82 182.70,170.39 182.95,170.88 183.20,171.28 183.45,171.60 183.70,171.82 183.95,171.96 184.20,172.00 184.45,171.96 184.70,171.86 184.94,171.68 185.19,171.43 185.44,171.11 185.69,170.72 185.93,170.26 186.18,169.74 186.43,169.15 186.68,168.49 186.92,167.77 187.17,166.99 187.42,166.15 187.67,165.25 187.92,164.29 188.16,163.28 188.41,162.22 188.66,161.11 188.91,159.96 189.15,158.76 189.40,157.52 189.65,156.25 189.90,154.93 190.14,153.59 190.39,152.22 190.64,150.82 190.89,149.40 191.14,147.96 191.38,146.51 191.63,145.04 191.88,143.57 192.13,142.09 192.37,140.61 192.62,139.13 192.87,137.66 193.12,136.19 193.36,134.74 193.61,133.30 193.86,131.88 194.11,130.48 194.36,129.11 194.60,127.77 194.85,126.45 195.10,125.18 195.35,123.94 195.59,122.74 195.84,121.59 196.09,120.48 196.34,119.42 196.58,118.41 196.83,117.45 197.08,116.55 197.33,115.71 197.58,114.93 197.82,114.21 198.07,113.55 198.32,112.96 198.57,112.44 198.81,111.98 199.06,111.59 199.31,111.27 199.56,111.02 199.80,110.84 200.05,110.74 200.30,110.70 200.55,110.73 200.80,110.83 201.05,110.99 201.29,111.22 201.54,111.52 201.79,111.87 202.04,112.29 202.29,112.78 202.54,113.32 202.79,113.93 203.03,114.59 203.28,115.32 203.53,116.10 203.78,116.93 204.03,117.82 204.28,118.76 204.53,119.75 204.78,120.79 205.02,121.88 205.27,123.01 205.52,124.18 205.77,125.39 206.02,126.64 206.27,127.92 206.52,129.24 206.76,130.59 207.01,131.97 207.26,133.37 207.51,134.79 207.76,136.23 208.01,137.69 208.26,139.17 208.50,140.65 208.75,142.15 209.00,143.65 209.25,145.15 209.50,146.65 209.75,148.15 210.00,149.65 210.24,151.13 210.49,152.61 210.74,154.07 210.99,155.51 211.24,156.93 211.49,158.33 211.74,159.71 211.98,161.06 212.23,162.38 212.48,163.66 212.73,164.91 212.98,166.12 213.23,167.29 213.48,168.42 213.72,169.51 213.97,170.55 214.22,171.54 214.47,172.48 214.72,173.37 214.97,174.20 215.22,174.98 215.47,175.71 215.71,176.37 215.96,176.98 216.21,177.52 216.46,178.01 216.71,178.43 216.96,178.78 217.21,179.08 217.45,179.31 217.70,179.47 217.95,179.57 218.20,179.60 218.45,179.57 218.69,179.47 218.94,179.32 219.19,179.10 219.44,178.82 219.68,178.48 219.93,178.08 220.18,177.62 220.43,177.11 220.67,176.54 220.92,175.92 221.17,175.25 221.42,174.52 221.66,173.75 221.91,172.94 222.16,172.08 222.41,171.18 222.65,170.24 222.90,169.28 223.15,168.27 223.39,167.25 223.64,166.19 223.89,165.11 224.14,164.02 224.38,162.91 224.63,161.79 224.88,160.66 225.13,159.52 225.37,158.38 225.62,157.24 225.87,156.11 226.12,154.99 226.36,153.88 226.61,152.79 226.86,151.71 227.11,150.65 227.35,149.63 227.60,148.62 227.85,147.66 228.09,146.72 228.34,145.82 228.59,144.96 228.84,144.15 229.08,143.38 229.33,142.65 229.58,141.98 229.83,141.36 230.07,140.79 230.32,140.28 230.57,139.82 230.82,139.42 231.06,139.08 231.31,138.80 231.56,138.58 231.81,138.43 232.05,138.33 232.30,138.30 232.55,138.32 232.80,138.39 233.05,138.51 233.29,138.68 233.54,138.89 233.79,139.15 234.04,139.45 234.29,139.80 234.54,140.20 234.79,140.63 235.04,141.12 235.28,141.64 235.53,142.20 235.78,142.81 236.03,143.45 236.28,144.14 236.53,144.86 236.78,145.61 237.02,146.40 237.27,147.22 237.52,148.08 237.77,148.96 238.02,149.87 238.27,150.81 238.52,151.77 238.76,152.76 239.01,153.77 239.26,154.79 239.51,155.84 239.76,156.90 240.01,157.97 240.26,159.06 240.51,160.16 240.75,161.26 241.00,162.37 241.25,163.48 241.50,164.60 241.75,165.72 242.00,166.83 242.25,167.94 242.49,169.04 242.74,170.14 242.99,171.23 243.24,172.30 243.49,173.36 243.74,174.41 243.99,175.43 244.24,176.44 244.48,177.43 244.73,178.39 244.98,179.33 245.23,180.24 245.48,181.12 245.73,181.98 245.98,182.80 246.22,183.59 246.47,184.34 246.72,185.06 246.97,185.75 247.22,186.39 247.47,187.00 247.72,187.56 247.96,188.08 248.21,188.57 248.46,189.00 248.71,189.40 248.96,189.75 249.21,190.05 249.46,190.31 249.71,190.52 249.95,190.69 250.20,190.81 250.45,190.88 250.70,190.90 250.95,190.88 251.20,190.82 251.44,190.71 251.69,190.56 251.94,190.38 252.19,190.15 252.44,189.88 252.69,189.57 252.93,189.23 253.18,188.85 253.43,188.43 253.68,187.98 253.93,187.49 254.18,186.98 254.42,186.43 254.67,185.85 254.92,185.25 255.17,184.63 255.42,183.98 255.66,183.31 255.91,182.63 256.16,181.93 256.41,181.21 256.66,180.48 256.91,179.74 257.15,179.00 257.40,178.25 257.65,177.50 257.90,176.75 258.15,176.00 258.39,175.26 258.64,174.52 258.89,173.79 259.14,173.07 259.39,172.37 259.64,171.69 259.88,171.02 260.13,170.37 260.38,169.75 260.63,169.15 260.88,168.57 261.12,168.02 261.37,167.51 261.62,167.02 261.87,166.57 262.12,166.15 262.37,165.77 262.61,165.43 262.86,165.12 263.11,164.85 263.36,164.62 263.61,164.44 263.86,164.29 264.10,164.18 264.35,164.12 264.60,164.10 264.85,164.12 265.10,164.17 265.35,164.25 265.60,164.36 265.85,164.51 266.10,164.69 266.35,164.90 266.59,165.15 266.84,165.42 267.09,165.73 267.34,166.06 267.59,166.43 267.84,166.82 268.09,167.25 268.34,167.70 268.59,168.18 268.84,168.69 269.09,169.22 269.34,169.77 269.59,170.35 269.84,170.96 270.09,171.58 270.34,172.23 270.58,172.90 270.83,173.58 271.08,174.29 271.33,175.01 271.58,175.74 271.83,176.49 272.08,177.26 272.33,178.04 272.58,178.82 272.83,179.62 273.08,180.43 273.33,181.24 273.58,182.06 273.83,182.88 274.08,183.71 274.33,184.54 274.57,185.36 274.82,186.19 275.07,187.02 275.32,187.84 275.57,188.66 275.82,189.47 276.07,190.28 276.32,191.08 276.57,191.86 276.82,192.64 277.07,193.41 277.32,194.16 277.57,194.89 277.82,195.61 278.07,196.32 278.32,197.00 278.56,197.67 278.81,198.32 279.06,198.94 279.31,199.55 279.56,200.13 279.81,200.68 280.06,201.21 280.31,201.72 280.56,202.20 280.81,202.65 281.06,203.08 281.31,203.47 281.56,203.84 281.81,204.17 282.06,204.48 282.31,204.75 282.55,205.00 282.80,205.21 283.05,205.39 283.30,205.54 283.55,205.65 283.80,205.73 284.05,205.78 284.30,205.80 284.55,205.79 284.80,205.75 285.04,205.69 285.29,205.60 285.54,205.49 285.79,205.35 286.04,205.19 286.28,205.00 286.53,204.80 286.78,204.57 287.03,204.32 287.28,204.05 287.52,203.76 287.77,203.46 288.02,203.14 288.27,202.80 288.52,202.45 288.77,202.08 289.01,201.70 289.26,201.31 289.51,200.92 289.76,200.51 290.01,200.10 290.25,199.69 290.50,199.27 290.75,198.85 291.00,198.43 291.25,198.01 291.49,197.60 291.74,197.19 291.99,196.78 292.24,196.39 292.49,196.00 292.73,195.62 292.98,195.25 293.23,194.90 293.48,194.56 293.73,194.24 293.98,193.94 294.22,193.65 294.47,193.38 294.72,193.13 294.97,192.90 295.22,192.70 295.46,192.51 295.71,192.35 295.96,192.21 296.21,192.10 296.46,192.01 296.70,191.95 296.95,191.91 297.20,191.90 297.45,191.91 297.70,191.95 297.94,192.02 298.19,192.12 298.44,192.24 298.69,192.39 298.94,192.56 299.19,192.76 299.43,192.99 299.68,193.24 299.93,193.52 300.18,193.82 300.43,194.15 300.67,194.50 300.92,194.87 301.17,195.27 301.42,195.68 301.67,196.12 301.91,196.58 302.16,197.06 302.41,197.56 302.66,198.08 302.91,198.62 303.16,199.17 303.40,199.74 303.65,200.33 303.90,200.93 304.15,201.54 304.40,202.16 304.64,202.80 304.89,203.45 305.14,204.11 305.39,204.77 305.64,205.45 305.89,206.13 306.13,206.82 306.38,207.51 306.63,208.20 306.88,208.90 307.13,209.60 307.37,210.30 307.62,211.00 307.87,211.70 308.12,212.39 308.37,213.08 308.61,213.77 308.86,214.45 309.11,215.13 309.36,215.79 309.61,216.45 309.86,217.10 310.10,217.74 310.35,218.36 310.60,218.97 310.85,219.57 311.10,220.16 311.34,220.73 311.59,221.28 311.84,221.82 312.09,222.34 312.34,222.84 312.59,223.32 312.83,223.78 313.08,224.22 313.33,224.63 313.58,225.03 313.83,225.40 314.07,225.75 314.32,226.08 314.57,226.38 314.82,226.66 315.07,226.91 315.31,227.14 315.56,227.34 315.81,227.51 316.06,227.66 316.31,227.78 316.56,227.88 316.80,227.95 317.05,227.99 317.30,228.00 317.54,227.99 317.79,227.97 318.03,227.94 318.28,227.89 318.52,227.82 318.77,227.75 319.01,227.66 319.26,227.56 319.50,227.45 319.75,227.32 319.99,227.19 320.24,227.05 320.48,226.90 320.73,226.74 320.97,226.58 321.22,226.42 321.46,226.25 321.71,226.07 321.95,225.90 322.19,225.73 322.44,225.55 322.68,225.38 322.93,225.22 323.17,225.06 323.42,224.90 323.66,224.75 323.91,224.61 324.15,224.48 324.40,224.35 324.64,224.24 324.89,224.14 325.13,224.05 325.38,223.98 325.62,223.91 325.87,223.86 326.11,223.83 326.36,223.81 326.60,223.80 326.85,223.81 327.10,223.85 327.34,223.91 327.59,223.99 327.84,224.10 328.09,224.24 328.34,224.39 328.58,224.57 328.83,224.77 329.08,225.00 329.33,225.24 329.58,225.51 329.82,225.80 330.07,226.11 330.32,226.45 330.57,226.80 330.82,227.17 331.06,227.55 331.31,227.96 331.56,228.38 331.81,228.82 332.06,229.28 332.30,229.75 332.55,230.23 332.80,230.72 333.05,231.23 333.30,231.75 333.54,232.28 333.79,232.82 334.04,233.37 334.29,233.93 334.54,234.49 334.78,235.05 335.03,235.63 335.28,236.20 335.53,236.78 335.78,237.36 336.02,237.94 336.27,238.52 336.52,239.10 336.77,239.67 337.02,240.25 337.26,240.81 337.51,241.37 337.76,241.93 338.01,242.48 338.26,243.02 338.50,243.55 338.75,244.07 339.00,244.57 339.25,245.07 339.50,245.55 339.74,246.02 339.99,246.48 340.24,246.92 340.49,247.34 340.74,247.75 340.98,248.13 341.23,248.50 341.48,248.85 341.73,249.19 341.98,249.50 342.22,249.79 342.47,250.06 342.72,250.30 342.97,250.53 343.22,250.73 343.46,250.91 343.71,251.06 343.96,251.20 344.21,251.31 344.46,251.39 344.70,251.45 344.95,251.49 345.20,251.50 345.45,251.50 345.69,251.48 345.94,251.46 346.19,251.43 346.43,251.39 346.68,251.35 346.93,251.30 347.17,251.23 347.42,251.17 347.67,251.09 347.91,251.01 348.16,250.92 348.40,250.83 348.65,250.73 348.90,250.63 349.14,250.53 349.39,250.42 349.64,250.30 349.88,250.19 350.13,250.07 350.38,249.96 350.62,249.84 350.87,249.73 351.12,249.61 351.36,249.50 351.61,249.38 351.86,249.27 352.10,249.17 352.35,249.07 352.60,248.97 352.84,248.88 353.09,248.79 353.33,248.71 353.58,248.63 353.83,248.57 354.07,248.50 354.32,248.45 354.57,248.41 354.81,248.37 355.06,248.34 355.31,248.32 355.55,248.30 355.80,248.30 356.05,248.31 356.30,248.32 356.55,248.35 356.80,248.39 357.04,248.44 357.29,248.50 357.54,248.57 357.79,248.65 358.04,248.75 358.29,248.85 358.54,248.96 358.79,249.07 359.04,249.20 359.29,249.34 359.53,249.48 359.78,249.62 360.03,249.78 360.28,249.94 360.53,250.10 360.78,250.27 361.03,250.44 361.28,250.61 361.53,250.79 361.78,250.96 362.02,251.14 362.27,251.31 362.52,251.49 362.77,251.66 363.02,251.83 363.27,252.00 363.52,252.16 363.77,252.32 364.02,252.48 364.27,252.62 364.51,252.76 364.76,252.90 365.01,253.03 365.26,253.14 365.51,253.25 365.76,253.35 366.01,253.45 366.26,253.53 366.51,253.60 366.76,253.66 367.00,253.71 367.25,253.75 367.50,253.78 367.75,253.79 368.00,253.80 368.50,253.79 369.00,253.78 369.50,253.76 370.00,253.75 370.50,253.74 371.00,253.73 371.50,253.72 372.00,253.71 372.50,253.69 373.00,253.68 373.50,253.67 374.00,253.66 374.50,253.65 375.00,253.63 375.50,253.62 376.00,253.61 376.50,253.60 377.00,253.59 377.50,253.58 378.00,253.56 378.50,253.55 379.00,253.54 379.50,253.53 380.00,253.52 380.50,253.51 381.00,253.49 381.50,253.48 382.00,253.47 382.50,253.46 383.00,253.45 383.50,253.43 384.00,253.42 384.50,253.41 385.00,253.40 385.50,253.39 386.00,253.38 386.50,253.37 387.00,253.36 387.50,253.35 388.00,253.34 388.50,253.33 389.00,253.32 389.50,253.31 390.00,253.30 390.50,253.29 391.00,253.28 391.50,253.27 392.00,253.26 392.50,253.25 393.00,253.24 393.50,253.23 394.00,253.22 394.50,253.21 395.00,253.20 395.50,253.18 396.00,253.17 396.50,253.15 397.00,253.14 397.50,253.12 398.00,253.10 398.50,253.08 399.00,253.04 399.50,253.00 400.00,252.95 400.50,252.89 401.00,252.83 401.50,252.76 402.00,252.69 402.50,252.62 403.00,252.54 403.50,252.46 404.00,252.38 404.50,252.30 405.00,252.22 405.50,252.14 406.00,252.06 406.50,251.99 407.00,251.92 407.50,251.85 408.00,251.79 408.50,251.74 409.00,251.69 409.50,251.66 410.00,251.63 410.50,251.61 411.00,251.60 411.50,251.60 412.00,251.59 412.50,251.59 413.00,251.59 413.50,251.58 414.00,251.58 414.50,251.58 415.00,251.58 415.50,251.57 416.00,251.57 416.50,251.57 417.00,251.56 417.50,251.56 418.00,251.56 418.50,251.56 419.00,251.55 419.50,251.55 420.00,251.55 420.50,251.54 421.00,251.54 421.50,251.54 422.00,251.54 422.50,251.53 423.00,251.53 423.50,251.53 424.00,251.53 424.50,251.52 425.00,251.52 425.50,251.52 426.00,251.51 426.50,251.51 427.00,251.51 427.50,251.51 428.00,251.50 428.50,251.50 429.00,251.50 429.50,251.50 430.00,251.50 430.50,251.49 431.00,251.49 431.50,251.49 432.00,251.49 432.50,251.48 433.00,251.48 433.50,251.48 434.00,251.48 434.50,251.47 435.00,251.47 435.50,251.47 436.00,251.47 436.50,251.47 437.00,251.46 437.50,251.46 438.00,251.46 438.50,251.46 439.00,251.46 439.50,251.45 440.00,251.45 440.50,251.45 441.00,251.45 441.50,251.45 442.00,251.44 442.50,251.44 443.00,251.44 443.50,251.44 444.00,251.44 444.50,251.43 445.00,251.43 445.50,251.43 446.00,251.43 446.50,251.43 447.00,251.42 447.50,251.42 448.00,251.42 448.50,251.42 449.00,251.42 449.50,251.42 450.00,251.41 450.50,251.41 451.00,251.41 451.50,251.41 452.00,251.41 452.50,251.41 453.00,251.40 453.50,251.40 454.00,251.40 454.50,251.40 455.00,251.40 455.50,251.40 456.00,251.40 456.50,251.39 457.00,251.39 457.50,251.39 458.00,251.39 458.50,251.39 459.00,251.39 459.50,251.39 460.00,251.38 460.50,251.38 461.00,251.38 461.50,251.38 462.00,251.38 462.50,251.38 463.00,251.38 463.50,251.37 464.00,251.37 464.50,251.37 465.00,251.37 465.50,251.37 466.00,251.37 466.50,251.37 467.00,251.37 467.50,251.36 468.00,251.36 468.50,251.36 469.00,251.36 469.50,251.36 470.00,251.36 470.50,251.36 471.00,251.36 471.50,251.36 472.00,251.35 472.50,251.35 473.00,251.35 473.50,251.35 474.00,251.35 474.50,251.35 475.00,251.35 475.50,251.35 476.00,251.35 476.50,251.35 477.00,251.35 477.50,251.34 478.00,251.34 478.50,251.34 479.00,251.34 479.50,251.34 480.00,251.34 480.50,251.34 481.00,251.34 481.50,251.34 482.00,251.34 482.50,251.34 483.00,251.33 483.50,251.33 484.00,251.33 484.50,251.33 485.00,251.33 485.50,251.33 486.00,251.33 486.50,251.33 487.00,251.33 487.50,251.33 488.00,251.33 488.50,251.33 489.00,251.33 489.50,251.33 490.00,251.32 490.50,251.32 491.00,251.32 491.50,251.32 492.00,251.32 492.50,251.32 493.00,251.32 493.50,251.32 494.00,251.32 494.50,251.32 495.00,251.32 495.50,251.32 496.00,251.32 496.50,251.32 497.00,251.32 497.50,251.32 498.00,251.32 498.50,251.32 499.00,251.32 499.50,251.31 500.00,251.31 500.50,251.31 501.00,251.31 501.50,251.31 502.00,251.31 502.50,251.31 503.00,251.31 503.50,251.31 504.00,251.31 504.50,251.31 505.00,251.31 505.50,251.31 506.00,251.31 506.50,251.31 507.00,251.31 507.50,251.31 508.00,251.31 508.50,251.31 509.00,251.31 509.50,251.31 510.00,251.31 510.50,251.31 511.00,251.31 511.50,251.31 512.00,251.31 512.50,251.31 513.00,251.31 513.50,251.31 514.00,251.30 514.50,251.30 515.00,251.30 515.50,251.30 516.00,251.30 516.50,251.30 517.00,251.30 517.50,251.30 518.00,251.30 518.50,251.30 519.00,251.30 519.50,251.30 520.00,251.30 520.50,251.30 521.00,251.30 521.50,251.30 522.00,251.30 522.50,251.30 523.00,251.30 523.50,251.30 524.00,251.30 524.50,251.30 525.00,251.30 525.50,251.30 526.00,251.30 526.50,251.30 527.00,251.30 527.50,251.30 528.00,251.30 528.50,251.30 529.00,251.30 529.50,251.30 530.00,251.30 530.50,251.30 531.00,251.30 531.50,251.30 532.00,251.30 532.50,251.30 533.00,251.30 533.50,251.30 534.00,251.30 534.50,251.30 535.00,251.30 535.50,251.30 536.00,251.30 536.50,251.30 537.00,251.30 537.20,251.30" stroke="#EDB120" stroke-dasharray="4.8 1.9 2.1 1.9" stroke-width="1.45"/>
<polyline points="35.30,251.60 52.10,251.60 59.60,33.10 80.50,33.10 81.20,35.50 81.90,40.80 82.40,43.20 82.70,43.60 83.00,43.20 83.60,40.80 84.40,35.50 85.10,33.10 455.40,33.10 456.40,35.84 457.40,38.66 458.40,41.54 459.40,44.49 460.40,47.50 461.40,50.58 462.40,53.72 463.40,56.92 464.40,60.29 465.40,63.85 466.40,67.53 467.40,71.24 468.40,74.93 469.40,78.52 470.40,81.94 471.40,85.10 472.40,88.07 473.40,90.93 474.40,93.70 475.40,96.36 476.40,98.92 477.40,101.38 478.40,103.74 479.40,105.96 480.40,108.01 481.40,109.94 482.40,111.82 483.40,113.72 484.40,115.70 485.40,117.82 486.40,120.13 487.40,122.57 488.40,125.12 489.40,127.76 490.40,130.48 491.40,133.26 492.40,136.08 493.40,138.95 494.40,141.97 495.40,145.12 496.40,148.34 497.40,151.55 498.40,154.69 499.40,157.72 500.40,160.55 501.40,163.24 502.40,165.83 503.40,168.34 504.40,170.80 505.40,173.23 506.40,175.65 507.40,178.08 508.40,180.53 509.40,182.98 510.40,185.43 511.40,187.87 512.40,190.29 513.40,192.70 514.40,195.08 515.40,197.43 516.40,199.75 517.40,202.01 518.40,204.23 519.40,206.44 520.40,208.65 521.40,210.91 522.40,213.24 523.40,215.62 524.40,218.05 525.40,220.52 526.40,223.02 527.40,225.54 528.40,228.08 529.40,230.63 530.40,233.20 531.40,235.79 532.40,238.40 533.40,241.03 534.40,243.67 535.40,246.34 536.40,249.03 537.20,251.20" stroke="#7E2F8E" stroke-width="1.4"/>
</g>
<g stroke="#262626" stroke-width="1.4" fill="none">
<path d="M35.3,256.35 H537.2 V16.599999999999998"/><path d="M35.3,16.599999999999998 V256.35"/>
<line x1="34.599999999999994" y1="17.2" x2="537.9000000000001" y2="17.2" stroke-width="1.4"/>
<line x1="35.30" y1="256.35" x2="35.30" y2="251.05"/><line x1="35.30" y1="17.2" x2="35.30" y2="22.799999999999997"/><line x1="118.95" y1="256.35" x2="118.95" y2="251.05"/><line x1="118.95" y1="17.2" x2="118.95" y2="22.799999999999997"/><line x1="202.60" y1="256.35" x2="202.60" y2="251.05"/><line x1="202.60" y1="17.2" x2="202.60" y2="22.799999999999997"/><line x1="286.25" y1="256.35" x2="286.25" y2="251.05"/><line x1="286.25" y1="17.2" x2="286.25" y2="22.799999999999997"/><line x1="369.90" y1="256.35" x2="369.90" y2="251.05"/><line x1="369.90" y1="17.2" x2="369.90" y2="22.799999999999997"/><line x1="453.55" y1="256.35" x2="453.55" y2="251.05"/><line x1="453.55" y1="17.2" x2="453.55" y2="22.799999999999997"/><line x1="537.20" y1="256.35" x2="537.20" y2="251.05"/><line x1="537.20" y1="17.2" x2="537.20" y2="22.799999999999997"/><line x1="35.3" y1="256.35" x2="41.099999999999994" y2="256.35"/><line x1="537.2" y1="256.35" x2="531.4000000000001" y2="256.35"/><line x1="35.3" y1="176.63" x2="41.099999999999994" y2="176.63"/><line x1="537.2" y1="176.63" x2="531.4000000000001" y2="176.63"/><line x1="35.3" y1="96.92" x2="41.099999999999994" y2="96.92"/><line x1="537.2" y1="96.92" x2="531.4000000000001" y2="96.92"/><line x1="35.3" y1="17.20" x2="41.099999999999994" y2="17.20"/><line x1="537.2" y1="17.20" x2="531.4000000000001" y2="17.20"/>
</g>
<g font-size="11" fill="#262626">
<text x="35.30" y="271.0" text-anchor="middle">0</text><text x="118.95" y="271.0" text-anchor="middle">0.5</text><text x="202.60" y="271.0" text-anchor="middle">1</text><text x="286.25" y="271.0" text-anchor="middle">1.5</text><text x="369.90" y="271.0" text-anchor="middle">2</text><text x="453.55" y="271.0" text-anchor="middle">2.5</text><text x="537.20" y="271.0" text-anchor="middle">3</text>
<text x="31" y="260.70" text-anchor="end">0</text><text x="31" y="180.98" text-anchor="end">5</text><text x="31" y="101.27" text-anchor="end">10</text><text x="31" y="21.55" text-anchor="end">15</text>
<text x="286" y="285.5" text-anchor="middle">Time [s]</text>
<text transform="translate(13.5,136.7) rotate(-90)" text-anchor="middle">H [s]</text>
<text x="286.1" y="14.45" text-anchor="middle" font-weight="bold" font-size="10.75" style="fill:#000">VSG's Adaptive Inertia</text>
</g>
<g>
<rect x="260.1" y="51.9" width="171.3" height="76.2" fill="#fff" stroke="#1e1e1e" stroke-width="1.5"/>
<g fill="none" stroke-width="1.25">
<line x1="263" y1="62.4" x2="290" y2="62.4" stroke="#0072BD" stroke-dasharray="0.1 2.55" stroke-linecap="round" stroke-width="1.4"/>
<line x1="263" y1="80.8" x2="290" y2="80.8" stroke="#D95319" stroke-dasharray="5 5.4"/>
<line x1="263" y1="99.3" x2="290" y2="99.3" stroke="#EDB120" stroke-dasharray="4.8 1.9 2.1 1.9" stroke-width="1.45"/>
<line x1="263" y1="117.7" x2="290" y2="117.7" stroke="#7E2F8E" stroke-width="1.4"/>
</g>
<g font-size="10.9" fill="#000">
<text x="292" y="64">AI*-VSG (K<tspan font-size="8.4" dy="5.4">H</tspan><tspan dy="-5.4"> = 1000 p.u.)</tspan></text>
<text x="292" y="82.7">AI*-VSG (K<tspan font-size="8.4" dy="5.4">H</tspan><tspan dy="-5.4"> = 5000 p.u.)</tspan></text>
<text x="292" y="101.4">AI*-VSG (K<tspan font-size="8.4" dy="5.4">H</tspan><tspan dy="-5.4"> = 25,000 p.u.)</tspan></text>
<text x="292" y="119.5">AI*-VSG (K<tspan font-size="8.4" dy="5.4">H</tspan><tspan dy="-5.4"> = 100,000 p.u.)</tspan></text>
</g>
</g>
</svg>
</body></html>
